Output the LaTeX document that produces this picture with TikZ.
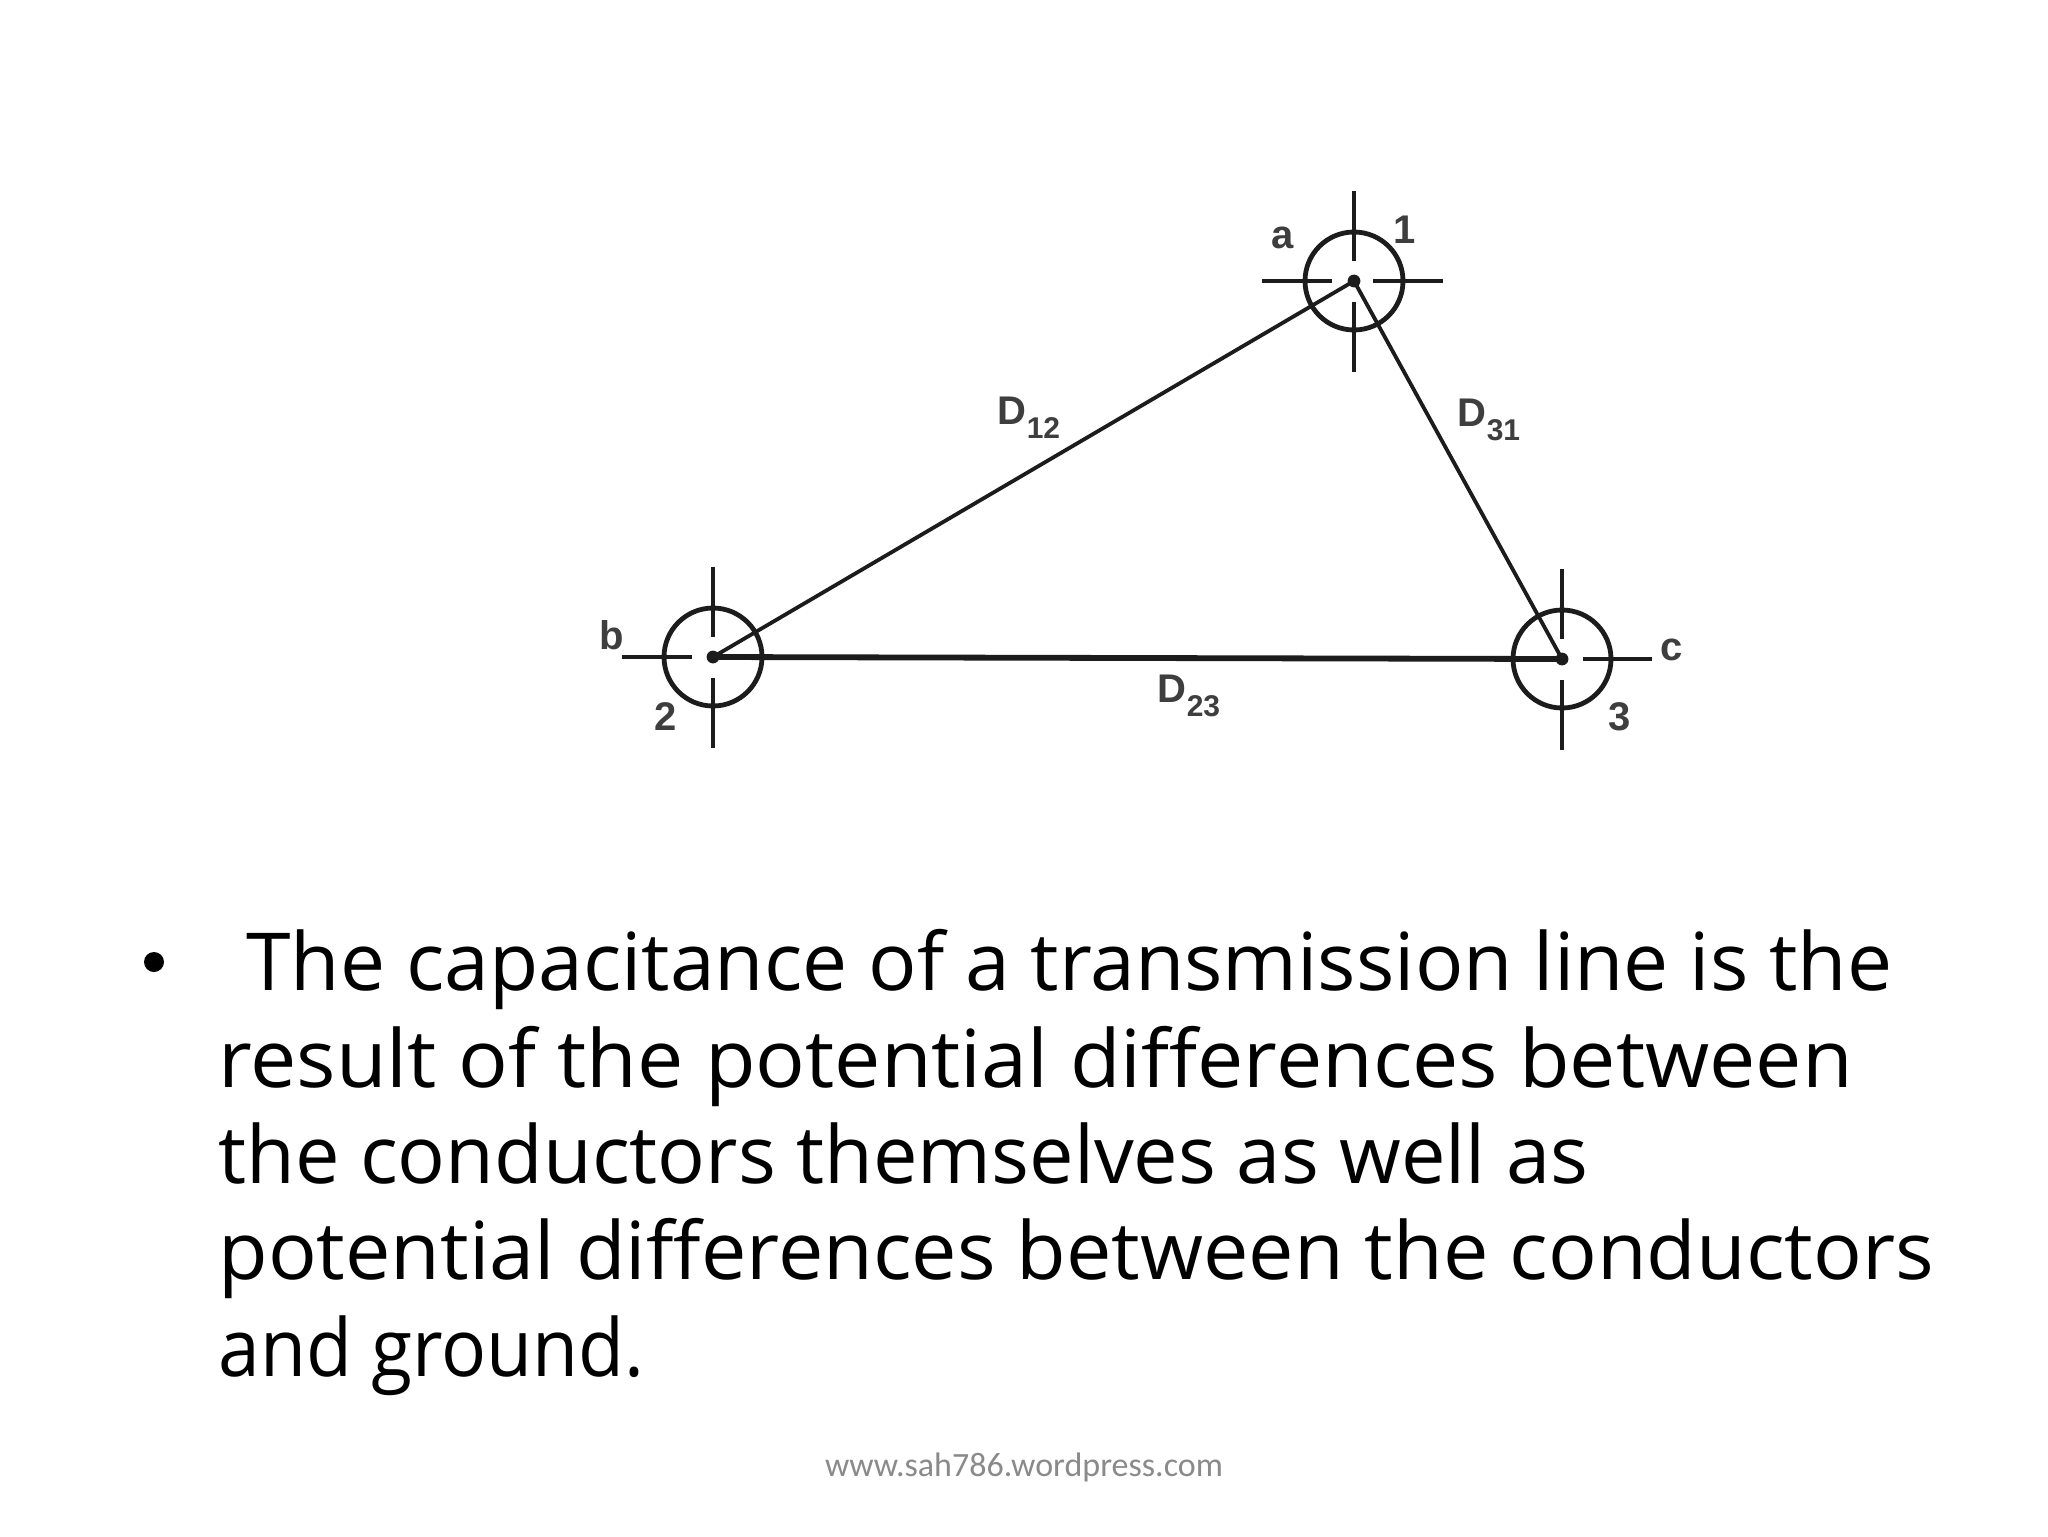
\documentclass[tikz,border=0pt]{standalone}
\usepackage{fontspec}
\setmainfont{Open Sans}[Ligatures={NoRequired,NoCommon}]
\newfontfamily\labelfont{Liberation Sans}[BoldFont={Liberation Sans Bold}]
\newfontfamily\footfont{Carlito}
\definecolor{ink}{HTML}{1C1C1C}
\definecolor{footgrey}{HTML}{8A8A8A}
\tikzset{
  conductor/.style={circle,draw=ink,line width=2.4pt,minimum size=49pt,inner sep=0pt},
  crosshair/.style={draw=ink,line width=1.8pt},
  span/.style={draw=ink,line width=1.9pt},
  thickspan/.style={draw=ink,line width=2.9pt},
  lab/.style={font=\labelfont\bfseries\fontsize{20}{22}\selectfont,text=ink!85,inner sep=0pt},
  body/.style={font=\fontsize{40}{48}\selectfont,text=black,anchor=base west,inner sep=0pt},
  foot/.style={font=\footfont\fontsize{17}{20}\selectfont,text=footgrey,inner sep=0pt}
}
\begin{document}
\begin{tikzpicture}[x=0.5pt,y=-0.5pt]
\useasboundingbox[fill=white] (0,0) rectangle (2048,1536);
\node[conductor] (a) at (1354,281) {};
\node[conductor] (b) at (713,657) {};
\node[conductor] (c) at (1562,659) {};
% conductor centre marks
\foreach \n in {a,b,c}{
  \fill[ink] (\n.center) circle (3.2pt);
  \draw[crosshair] ([shift={(0,-90)}]\n.center) -- ([shift={(0,-20)}]\n.center);
  \draw[crosshair] ([shift={(0,21)}]\n.center) -- ([shift={(0,91)}]\n.center);
}
\draw[crosshair] ([shift={(-92,0)}]a.center) -- ([shift={(-22,0)}]a.center);
\draw[crosshair] ([shift={(19,0)}]a.center) -- ([shift={(89,0)}]a.center);
\draw[crosshair] ([shift={(-91,0)}]b.center) -- ([shift={(-21,0)}]b.center);
\draw[crosshair] ([shift={(21,0)}]c.center) -- ([shift={(90,0)}]c.center);
% spans
\draw[span] (b.center) -- (a.center);
\draw[span] (a.center) -- (c.center);
\draw[thickspan] (b.center) -- (c.center);
% labels
\node[lab] (la) at (1283,238) {a};
\node[lab] (l1) at (1405,230) {1};
\node[lab] (lb) at (612,635) {b};
\node[lab] (l2) at (666,717) {2};
\node[lab] (lc) at (1672,650) {c};
\node[lab] (l3) at (1620,717) {3};
\node[lab] (d12) at (1029,418) {D\raisebox{-0.35em}{\fontsize{15}{16}\selectfont 12}};
\node[lab] (d31) at (1489,420) {D\raisebox{-0.35em}{\fontsize{15}{16}\selectfont 31}};
\node[lab] (d23) at (1189,696) {D\raisebox{-0.35em}{\fontsize{15}{16}\selectfont 23}};
% text
\fill[black] (154,962) circle (5pt);
\node[body] (t1) at (246,990) {\scalebox{1.005}[1]{The capacitance of a transmission line is the}};
\node[body] (t2) at (218,1087) {\scalebox{1.032}[1]{result of the potential differences between}};
\node[body] (t3) at (218,1183) {\scalebox{0.992}[1]{the conductors themselves as well as}};
\node[body] (t4) at (218,1279) {\scalebox{1.012}[1]{potential differences between the conductors}};
\node[body] (t5) at (218,1376) {\scalebox{0.936}[1]{and ground.}};
\node[foot] (f) at (1024,1467) {www.sah786.wordpress.com};
\end{tikzpicture}
\end{document}
